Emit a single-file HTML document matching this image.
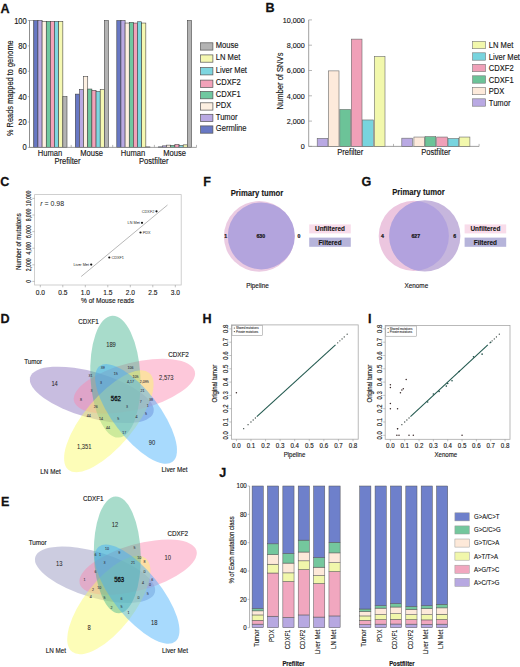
<!DOCTYPE html>
<html><head><meta charset="utf-8"><style>
html,body{margin:0;padding:0;background:#fff;}
body{width:520px;height:667px;overflow:hidden;}
svg{display:block;font-family:"Liberation Sans", sans-serif;}
</style></head><body>
<svg width="520" height="667" viewBox="0 0 520 667">
<rect width="520" height="667" fill="#fff"/>
<text x="0" y="0" font-size="12.6" font-weight="bold" fill="#111" stroke="#111" stroke-width="0.25" transform="translate(0.6 12.73) scale(1 1.05)">A</text>
<rect x="29.6" y="20.5" width="4.2" height="126.9" fill="#ffffff" stroke="#777" stroke-width="0.6"/>
<rect x="33.8" y="20.5" width="4.15" height="126.9" fill="#6878c4" stroke="#3a3a3a" stroke-width="0.55"/>
<rect x="37.95" y="20.5" width="4.15" height="126.9" fill="#b9a9e3" stroke="#3a3a3a" stroke-width="0.55"/>
<rect x="42.1" y="21.39" width="4.15" height="126.01" fill="#fdf0e2" stroke="#3a3a3a" stroke-width="0.55"/>
<rect x="46.25" y="21.39" width="4.15" height="126.01" fill="#70c8a0" stroke="#3a3a3a" stroke-width="0.55"/>
<rect x="50.4" y="21.39" width="4.15" height="126.01" fill="#f2a2b9" stroke="#3a3a3a" stroke-width="0.55"/>
<rect x="54.55" y="21.39" width="4.15" height="126.01" fill="#7ed6e0" stroke="#3a3a3a" stroke-width="0.55"/>
<rect x="58.7" y="21.39" width="4.15" height="126.01" fill="#f5f8b2" stroke="#3a3a3a" stroke-width="0.55"/>
<rect x="62.85" y="96.64" width="4.15" height="50.76" fill="#b3b3b3" stroke="#3a3a3a" stroke-width="0.55"/>
<rect x="75.3" y="94.1" width="4.15" height="53.3" fill="#6878c4" stroke="#3a3a3a" stroke-width="0.55"/>
<rect x="79.45" y="89.66" width="4.15" height="57.74" fill="#b9a9e3" stroke="#3a3a3a" stroke-width="0.55"/>
<rect x="83.6" y="76.34" width="4.15" height="71.06" fill="#fdf0e2" stroke="#3a3a3a" stroke-width="0.55"/>
<rect x="87.75" y="89.03" width="4.15" height="58.37" fill="#70c8a0" stroke="#3a3a3a" stroke-width="0.55"/>
<rect x="91.9" y="90.3" width="4.15" height="57.1" fill="#f2a2b9" stroke="#3a3a3a" stroke-width="0.55"/>
<rect x="96.05" y="91.56" width="4.15" height="55.84" fill="#7ed6e0" stroke="#3a3a3a" stroke-width="0.55"/>
<rect x="100.2" y="89.66" width="4.15" height="57.74" fill="#f5f8b2" stroke="#3a3a3a" stroke-width="0.55"/>
<rect x="104.35" y="20.5" width="4.15" height="126.9" fill="#b3b3b3" stroke="#3a3a3a" stroke-width="0.55"/>
<rect x="116.8" y="20.5" width="4.15" height="126.9" fill="#6878c4" stroke="#3a3a3a" stroke-width="0.55"/>
<rect x="120.95" y="20.5" width="4.15" height="126.9" fill="#b9a9e3" stroke="#3a3a3a" stroke-width="0.55"/>
<rect x="125.1" y="23.04" width="4.15" height="124.36" fill="#fdf0e2" stroke="#3a3a3a" stroke-width="0.55"/>
<rect x="129.25" y="22.4" width="4.15" height="125" fill="#70c8a0" stroke="#3a3a3a" stroke-width="0.55"/>
<rect x="133.4" y="23.04" width="4.15" height="124.36" fill="#f2a2b9" stroke="#3a3a3a" stroke-width="0.55"/>
<rect x="137.55" y="21.77" width="4.15" height="125.63" fill="#7ed6e0" stroke="#3a3a3a" stroke-width="0.55"/>
<rect x="141.7" y="23.04" width="4.15" height="124.36" fill="#f5f8b2" stroke="#3a3a3a" stroke-width="0.55"/>
<rect x="145.85" y="146.89" width="4.15" height="0.51" fill="#b3b3b3" stroke="#3a3a3a" stroke-width="0.55"/>
<rect x="158.3" y="146.89" width="4.15" height="0.51" fill="#6878c4" stroke="#3a3a3a" stroke-width="0.55"/>
<rect x="162.45" y="145.88" width="4.15" height="1.52" fill="#b9a9e3" stroke="#3a3a3a" stroke-width="0.55"/>
<rect x="166.6" y="145.12" width="4.15" height="2.28" fill="#fdf0e2" stroke="#3a3a3a" stroke-width="0.55"/>
<rect x="170.75" y="145.5" width="4.15" height="1.9" fill="#70c8a0" stroke="#3a3a3a" stroke-width="0.55"/>
<rect x="174.9" y="144.61" width="4.15" height="2.79" fill="#f2a2b9" stroke="#3a3a3a" stroke-width="0.55"/>
<rect x="179.05" y="145.5" width="4.15" height="1.9" fill="#7ed6e0" stroke="#3a3a3a" stroke-width="0.55"/>
<rect x="183.2" y="144.86" width="4.15" height="2.54" fill="#f5f8b2" stroke="#3a3a3a" stroke-width="0.55"/>
<rect x="187.35" y="20.5" width="4.15" height="126.9" fill="#b3b3b3" stroke="#3a3a3a" stroke-width="0.55"/>
<line x1="29.5" y1="20.5" x2="29.5" y2="147.4" stroke="#888" stroke-width="0.8"/>
<line x1="27.8" y1="147.4" x2="29.5" y2="147.4" stroke="#888" stroke-width="0.6"/>
<text x="0" y="2.74" font-size="7.6" text-anchor="end" fill="#161616" transform="translate(26.8 147.4) scale(1 1.1)" stroke="#161616" stroke-width="0.12">0</text>
<line x1="27.8" y1="122.02" x2="29.5" y2="122.02" stroke="#888" stroke-width="0.6"/>
<text x="0" y="2.74" font-size="7.6" text-anchor="end" fill="#161616" transform="translate(26.8 122.02) scale(1 1.1)" stroke="#161616" stroke-width="0.12">20</text>
<line x1="27.8" y1="96.64" x2="29.5" y2="96.64" stroke="#888" stroke-width="0.6"/>
<text x="0" y="2.74" font-size="7.6" text-anchor="end" fill="#161616" transform="translate(26.8 96.64) scale(1 1.1)" stroke="#161616" stroke-width="0.12">40</text>
<line x1="27.8" y1="71.26" x2="29.5" y2="71.26" stroke="#888" stroke-width="0.6"/>
<text x="0" y="2.74" font-size="7.6" text-anchor="end" fill="#161616" transform="translate(26.8 71.26) scale(1 1.1)" stroke="#161616" stroke-width="0.12">60</text>
<line x1="27.8" y1="45.88" x2="29.5" y2="45.88" stroke="#888" stroke-width="0.6"/>
<text x="0" y="2.74" font-size="7.6" text-anchor="end" fill="#161616" transform="translate(26.8 45.88) scale(1 1.1)" stroke="#161616" stroke-width="0.12">80</text>
<line x1="27.8" y1="20.5" x2="29.5" y2="20.5" stroke="#888" stroke-width="0.6"/>
<text x="0" y="2.74" font-size="7.6" text-anchor="end" fill="#161616" transform="translate(26.8 20.5) scale(1 1.1)" stroke="#161616" stroke-width="0.12">100</text>
<line x1="29.5" y1="147.4" x2="196.5" y2="147.4" stroke="#888" stroke-width="0.8"/>
<line x1="71.2" y1="144.9" x2="71.2" y2="147.4" stroke="#888" stroke-width="0.6"/>
<line x1="112.7" y1="144.9" x2="112.7" y2="147.4" stroke="#888" stroke-width="0.6"/>
<line x1="154.4" y1="144.9" x2="154.4" y2="147.4" stroke="#888" stroke-width="0.6"/>
<line x1="196.5" y1="144.9" x2="196.5" y2="147.4" stroke="#888" stroke-width="0.6"/>
<text x="0" y="2.74" font-size="7.6" text-anchor="middle" fill="#161616" transform="translate(50 153.2) scale(1 1.1)" stroke="#161616" stroke-width="0.12">Human</text>
<text x="0" y="2.74" font-size="7.6" text-anchor="middle" fill="#161616" transform="translate(91.5 153.2) scale(1 1.1)" stroke="#161616" stroke-width="0.12">Mouse</text>
<text x="0" y="2.74" font-size="7.6" text-anchor="middle" fill="#161616" transform="translate(133 153.2) scale(1 1.1)" stroke="#161616" stroke-width="0.12">Human</text>
<text x="0" y="2.74" font-size="7.6" text-anchor="middle" fill="#161616" transform="translate(174.6 153.2) scale(1 1.1)" stroke="#161616" stroke-width="0.12">Mouse</text>
<text x="0" y="2.74" font-size="7.6" text-anchor="middle" fill="#161616" transform="translate(67.5 160.6) scale(1 1.1)" stroke="#161616" stroke-width="0.12">Prefilter</text>
<text x="0" y="2.74" font-size="7.6" text-anchor="middle" fill="#161616" transform="translate(153.8 160.6) scale(1 1.1)" stroke="#161616" stroke-width="0.12">Postfilter</text>
<text x="0" y="2.66" font-size="7.4" text-anchor="middle" fill="#161616" transform="translate(10.2 88.2) rotate(-90) scale(1 1.1)" stroke="#161616" stroke-width="0.12">% Reads mapped to genome</text>
<rect x="200.6" y="42.8" width="12.3" height="7.3" fill="#b3b3b3" stroke="#555" stroke-width="0.7"/>
<text x="0" y="2.74" font-size="7.6" text-anchor="start" fill="#161616" transform="translate(215.8 45.1) scale(1 1.1)" stroke="#161616" stroke-width="0.12">Mouse</text>
<rect x="200.6" y="54.9" width="12.3" height="7.3" fill="#f5f8b2" stroke="#555" stroke-width="0.7"/>
<text x="0" y="2.74" font-size="7.6" text-anchor="start" fill="#161616" transform="translate(215.8 57.2) scale(1 1.1)" stroke="#161616" stroke-width="0.12">LN Met</text>
<rect x="200.6" y="67.6" width="12.3" height="7.3" fill="#7ed6e0" stroke="#555" stroke-width="0.7"/>
<text x="0" y="2.74" font-size="7.6" text-anchor="start" fill="#161616" transform="translate(215.8 69.9) scale(1 1.1)" stroke="#161616" stroke-width="0.12">Liver Met</text>
<rect x="200.6" y="80.1" width="12.3" height="7.3" fill="#f2a2b9" stroke="#555" stroke-width="0.7"/>
<text x="0" y="2.74" font-size="7.6" text-anchor="start" fill="#161616" transform="translate(215.8 82.4) scale(1 1.1)" stroke="#161616" stroke-width="0.12">CDXF2</text>
<rect x="200.6" y="91.5" width="12.3" height="7.3" fill="#70c8a0" stroke="#555" stroke-width="0.7"/>
<text x="0" y="2.74" font-size="7.6" text-anchor="start" fill="#161616" transform="translate(215.8 93.8) scale(1 1.1)" stroke="#161616" stroke-width="0.12">CDXF1</text>
<rect x="200.6" y="102.8" width="12.3" height="7.3" fill="#fdf0e2" stroke="#555" stroke-width="0.7"/>
<text x="0" y="2.74" font-size="7.6" text-anchor="start" fill="#161616" transform="translate(215.8 105.1) scale(1 1.1)" stroke="#161616" stroke-width="0.12">PDX</text>
<rect x="200.6" y="114.3" width="12.3" height="7.3" fill="#b9a9e3" stroke="#555" stroke-width="0.7"/>
<text x="0" y="2.74" font-size="7.6" text-anchor="start" fill="#161616" transform="translate(215.8 116.6) scale(1 1.1)" stroke="#161616" stroke-width="0.12">Tumor</text>
<rect x="200.6" y="125.9" width="12.3" height="7.3" fill="#6878c4" stroke="#555" stroke-width="0.7"/>
<text x="0" y="2.74" font-size="7.6" text-anchor="start" fill="#161616" transform="translate(215.8 128.2) scale(1 1.1)" stroke="#161616" stroke-width="0.12">Germline</text>
<text x="0" y="0" font-size="12.6" font-weight="bold" fill="#111" stroke="#111" stroke-width="0.25" transform="translate(265.4 12.33) scale(1 1.05)">B</text>
<line x1="308.7" y1="19.9" x2="308.7" y2="146.4" stroke="#888" stroke-width="0.8"/>
<line x1="308.7" y1="146.4" x2="312" y2="146.4" stroke="#888" stroke-width="0.6"/>
<text x="0" y="2.59" font-size="7.2" text-anchor="end" fill="#161616" transform="translate(304.8 146.4) scale(1 1.1)" stroke="#161616" stroke-width="0.12">0</text>
<line x1="308.7" y1="121.1" x2="312" y2="121.1" stroke="#888" stroke-width="0.6"/>
<text x="0" y="2.59" font-size="7.2" text-anchor="end" fill="#161616" transform="translate(304.8 121.1) scale(1 1.1)" stroke="#161616" stroke-width="0.12">2,000</text>
<line x1="308.7" y1="95.8" x2="312" y2="95.8" stroke="#888" stroke-width="0.6"/>
<text x="0" y="2.59" font-size="7.2" text-anchor="end" fill="#161616" transform="translate(304.8 95.8) scale(1 1.1)" stroke="#161616" stroke-width="0.12">4,000</text>
<line x1="308.7" y1="70.5" x2="312" y2="70.5" stroke="#888" stroke-width="0.6"/>
<text x="0" y="2.59" font-size="7.2" text-anchor="end" fill="#161616" transform="translate(304.8 70.5) scale(1 1.1)" stroke="#161616" stroke-width="0.12">6,000</text>
<line x1="308.7" y1="45.2" x2="312" y2="45.2" stroke="#888" stroke-width="0.6"/>
<text x="0" y="2.59" font-size="7.2" text-anchor="end" fill="#161616" transform="translate(304.8 45.2) scale(1 1.1)" stroke="#161616" stroke-width="0.12">8,000</text>
<line x1="308.7" y1="19.9" x2="312" y2="19.9" stroke="#888" stroke-width="0.6"/>
<text x="0" y="2.59" font-size="7.2" text-anchor="end" fill="#161616" transform="translate(304.8 19.9) scale(1 1.1)" stroke="#161616" stroke-width="0.12">10,000</text>
<line x1="308.7" y1="146.4" x2="479.1" y2="146.4" stroke="#888" stroke-width="0.8"/>
<line x1="393.5" y1="143.9" x2="393.5" y2="146.4" stroke="#888" stroke-width="0.6"/>
<line x1="479.1" y1="143.9" x2="479.1" y2="146.4" stroke="#888" stroke-width="0.6"/>
<rect x="317.2" y="138.3" width="10.7" height="8.1" fill="#b9a9e3" stroke="#6a6a6a" stroke-width="0.6"/>
<rect x="328.3" y="70.88" width="10.7" height="75.52" fill="#fdeadb" stroke="#6a6a6a" stroke-width="0.6"/>
<rect x="339.8" y="109.46" width="10.7" height="36.94" fill="#6cc398" stroke="#6a6a6a" stroke-width="0.6"/>
<rect x="351.3" y="39.13" width="10.7" height="107.27" fill="#f0a0b8" stroke="#6a6a6a" stroke-width="0.6"/>
<rect x="362.6" y="119.96" width="10.7" height="26.44" fill="#78d4de" stroke="#6a6a6a" stroke-width="0.6"/>
<rect x="374.3" y="56.46" width="10.7" height="89.94" fill="#f2f8ac" stroke="#6a6a6a" stroke-width="0.6"/>
<rect x="401.8" y="138.18" width="10.7" height="8.22" fill="#b9a9e3" stroke="#6a6a6a" stroke-width="0.6"/>
<rect x="413.9" y="137.04" width="10.7" height="9.36" fill="#fdeadb" stroke="#6a6a6a" stroke-width="0.6"/>
<rect x="425" y="136.66" width="10.7" height="9.74" fill="#6cc398" stroke="#6a6a6a" stroke-width="0.6"/>
<rect x="436.7" y="137.04" width="10.7" height="9.36" fill="#f0a0b8" stroke="#6a6a6a" stroke-width="0.6"/>
<rect x="448" y="138.56" width="10.7" height="7.84" fill="#78d4de" stroke="#6a6a6a" stroke-width="0.6"/>
<rect x="459.2" y="137.04" width="10.7" height="9.36" fill="#f2f8ac" stroke="#6a6a6a" stroke-width="0.6"/>
<text x="0" y="2.74" font-size="7.6" text-anchor="middle" fill="#161616" transform="translate(350.3 152) scale(1 1.1)" stroke="#161616" stroke-width="0.12">Prefilter</text>
<text x="0" y="2.74" font-size="7.6" text-anchor="middle" fill="#161616" transform="translate(435.9 152) scale(1 1.1)" stroke="#161616" stroke-width="0.12">Postfilter</text>
<text x="0" y="2.74" font-size="7.6" text-anchor="middle" fill="#161616" transform="translate(280.2 81) rotate(-90) scale(1 1.1)" stroke="#161616" stroke-width="0.12">Number of SNVs</text>
<rect x="472.6" y="41.3" width="13" height="7.4" fill="#f2f8ac" stroke="#777" stroke-width="0.6"/>
<text x="0" y="2.74" font-size="7.6" text-anchor="start" fill="#161616" transform="translate(488.8 45) scale(1 1.1)" stroke="#161616" stroke-width="0.12">LN Met</text>
<rect x="472.6" y="52.8" width="13" height="7.4" fill="#78d4de" stroke="#777" stroke-width="0.6"/>
<text x="0" y="2.74" font-size="7.6" text-anchor="start" fill="#161616" transform="translate(488.8 56.5) scale(1 1.1)" stroke="#161616" stroke-width="0.12">Liver Met</text>
<rect x="472.6" y="64.3" width="13" height="7.4" fill="#f0a0b8" stroke="#777" stroke-width="0.6"/>
<text x="0" y="2.74" font-size="7.6" text-anchor="start" fill="#161616" transform="translate(488.8 68) scale(1 1.1)" stroke="#161616" stroke-width="0.12">CDXF2</text>
<rect x="472.6" y="75.8" width="13" height="7.4" fill="#6cc398" stroke="#777" stroke-width="0.6"/>
<text x="0" y="2.74" font-size="7.6" text-anchor="start" fill="#161616" transform="translate(488.8 79.5) scale(1 1.1)" stroke="#161616" stroke-width="0.12">CDXF1</text>
<rect x="472.6" y="87.3" width="13" height="7.4" fill="#fdeadb" stroke="#777" stroke-width="0.6"/>
<text x="0" y="2.74" font-size="7.6" text-anchor="start" fill="#161616" transform="translate(488.8 91) scale(1 1.1)" stroke="#161616" stroke-width="0.12">PDX</text>
<rect x="472.6" y="98.8" width="13" height="7.4" fill="#b9a9e3" stroke="#777" stroke-width="0.6"/>
<text x="0" y="2.74" font-size="7.6" text-anchor="start" fill="#161616" transform="translate(488.8 102.5) scale(1 1.1)" stroke="#161616" stroke-width="0.12">Tumor</text>
<text x="0" y="0" font-size="12.6" font-weight="bold" fill="#111" stroke="#111" stroke-width="0.25" transform="translate(0.3 186.23) scale(1 1.05)">C</text>
<rect x="34.6" y="194.6" width="146.6" height="90.4" fill="none" stroke="#c4c4c4" stroke-width="0.8"/>
<line x1="32.3" y1="281.4" x2="34.6" y2="281.4" stroke="#999" stroke-width="0.6"/>
<text x="0" y="1.84" font-size="5.1" text-anchor="middle" fill="#161616" transform="translate(28.4 281.4) rotate(-90) scale(1 1.3)" stroke="#161616" stroke-width="0.12">0</text>
<line x1="32.3" y1="264.8" x2="34.6" y2="264.8" stroke="#999" stroke-width="0.6"/>
<text x="0" y="1.84" font-size="5.1" text-anchor="middle" fill="#161616" transform="translate(28.4 264.8) rotate(-90) scale(1 1.3)" stroke="#161616" stroke-width="0.12">2,000</text>
<line x1="32.3" y1="248.2" x2="34.6" y2="248.2" stroke="#999" stroke-width="0.6"/>
<text x="0" y="1.84" font-size="5.1" text-anchor="middle" fill="#161616" transform="translate(28.4 248.2) rotate(-90) scale(1 1.3)" stroke="#161616" stroke-width="0.12">4,000</text>
<line x1="32.3" y1="231.6" x2="34.6" y2="231.6" stroke="#999" stroke-width="0.6"/>
<text x="0" y="1.84" font-size="5.1" text-anchor="middle" fill="#161616" transform="translate(28.4 231.6) rotate(-90) scale(1 1.3)" stroke="#161616" stroke-width="0.12">6,000</text>
<line x1="32.3" y1="215" x2="34.6" y2="215" stroke="#999" stroke-width="0.6"/>
<text x="0" y="1.84" font-size="5.1" text-anchor="middle" fill="#161616" transform="translate(28.4 215) rotate(-90) scale(1 1.3)" stroke="#161616" stroke-width="0.12">8,000</text>
<line x1="32.3" y1="198.4" x2="34.6" y2="198.4" stroke="#999" stroke-width="0.6"/>
<text x="0" y="1.84" font-size="5.1" text-anchor="middle" fill="#161616" transform="translate(28.4 198.4) rotate(-90) scale(1 1.3)" stroke="#161616" stroke-width="0.12">10,000</text>
<line x1="40.3" y1="285" x2="40.3" y2="287.3" stroke="#999" stroke-width="0.6"/>
<text x="0" y="2.38" font-size="6.6" text-anchor="middle" fill="#161616" transform="translate(40.3 292.2) scale(1 1.1)" stroke="#161616" stroke-width="0.12">0.0</text>
<line x1="62.8" y1="285" x2="62.8" y2="287.3" stroke="#999" stroke-width="0.6"/>
<text x="0" y="2.38" font-size="6.6" text-anchor="middle" fill="#161616" transform="translate(62.8 292.2) scale(1 1.1)" stroke="#161616" stroke-width="0.12">0.5</text>
<line x1="85.3" y1="285" x2="85.3" y2="287.3" stroke="#999" stroke-width="0.6"/>
<text x="0" y="2.38" font-size="6.6" text-anchor="middle" fill="#161616" transform="translate(85.3 292.2) scale(1 1.1)" stroke="#161616" stroke-width="0.12">1.0</text>
<line x1="107.8" y1="285" x2="107.8" y2="287.3" stroke="#999" stroke-width="0.6"/>
<text x="0" y="2.38" font-size="6.6" text-anchor="middle" fill="#161616" transform="translate(107.8 292.2) scale(1 1.1)" stroke="#161616" stroke-width="0.12">1.5</text>
<line x1="130.3" y1="285" x2="130.3" y2="287.3" stroke="#999" stroke-width="0.6"/>
<text x="0" y="2.38" font-size="6.6" text-anchor="middle" fill="#161616" transform="translate(130.3 292.2) scale(1 1.1)" stroke="#161616" stroke-width="0.12">2.0</text>
<line x1="152.8" y1="285" x2="152.8" y2="287.3" stroke="#999" stroke-width="0.6"/>
<text x="0" y="2.38" font-size="6.6" text-anchor="middle" fill="#161616" transform="translate(152.8 292.2) scale(1 1.1)" stroke="#161616" stroke-width="0.12">2.5</text>
<line x1="175.3" y1="285" x2="175.3" y2="287.3" stroke="#999" stroke-width="0.6"/>
<text x="0" y="2.38" font-size="6.6" text-anchor="middle" fill="#161616" transform="translate(175.3 292.2) scale(1 1.1)" stroke="#161616" stroke-width="0.12">3.0</text>
<text x="40.2" y="205.5" font-size="7" fill="#222"><tspan font-style="italic">r</tspan> = 0.98</text>
<line x1="81.2" y1="276.5" x2="167.5" y2="205" stroke="#999" stroke-width="0.7"/>
<circle cx="91.2" cy="264.6" r="1.1" fill="#111"/>
<text x="0" y="1.37" font-size="3.8" text-anchor="end" fill="#333" transform="translate(89 264.6) scale(1 1.1)" stroke="#333" stroke-width="0.02">Liver Met</text>
<circle cx="109.3" cy="257.5" r="1.1" fill="#111"/>
<text x="0" y="1.37" font-size="3.8" text-anchor="start" fill="#333" transform="translate(111.5 257.5) scale(1 1.1)" stroke="#333" stroke-width="0.02">CDXF1</text>
<circle cx="140.5" cy="232.5" r="1.1" fill="#111"/>
<text x="0" y="1.37" font-size="3.8" text-anchor="start" fill="#333" transform="translate(142.7 232.5) scale(1 1.1)" stroke="#333" stroke-width="0.02">PDX</text>
<circle cx="142" cy="222.8" r="1.1" fill="#111"/>
<text x="0" y="1.37" font-size="3.8" text-anchor="end" fill="#333" transform="translate(139.8 222.8) scale(1 1.1)" stroke="#333" stroke-width="0.02">LN Met</text>
<circle cx="156.5" cy="211.3" r="1.1" fill="#111"/>
<text x="0" y="1.37" font-size="3.8" text-anchor="end" fill="#333" transform="translate(154.3 211.3) scale(1 1.1)" stroke="#333" stroke-width="0.02">CDXF2</text>
<text x="0" y="2.2" font-size="6.1" text-anchor="middle" fill="#161616" transform="translate(18.9 241.6) rotate(-90) scale(1 1.1)" stroke="#161616" stroke-width="0.12">Number of mutations</text>
<text x="0" y="2.38" font-size="6.6" text-anchor="middle" fill="#161616" transform="translate(107.5 300.6) scale(1 1.1)" stroke="#161616" stroke-width="0.12">% of Mouse reads</text>
<text x="0" y="0" font-size="12.6" font-weight="bold" fill="#111" stroke="#111" stroke-width="0.25" transform="translate(203.2 186.23) scale(1 1.05)">F</text>
<text x="0" y="2.77" font-size="7.7" text-anchor="middle" fill="#161616" transform="translate(256.9 192.8) scale(1 1.1)" font-weight="bold" stroke="#161616" stroke-width="0.12">Primary tumor</text>
<circle cx="259.2" cy="236.4" r="35.3" fill="#ebcbe2"/>
<circle cx="261.3" cy="235.9" r="33.5" fill="#b3a4dd"/>
<text x="0" y="1.87" font-size="5.2" text-anchor="middle" fill="#161616" transform="translate(225.7 236.2) scale(1 1.1)" font-weight="bold" stroke="#161616" stroke-width="0.2">1</text>
<text x="0" y="1.87" font-size="5.2" text-anchor="middle" fill="#161616" transform="translate(260.8 236.2) scale(1 1.1)" font-weight="bold" stroke="#161616" stroke-width="0.2">630</text>
<text x="0" y="1.87" font-size="5.2" text-anchor="middle" fill="#161616" transform="translate(298.9 236.2) scale(1 1.1)" font-weight="bold" stroke="#161616" stroke-width="0.2">0</text>
<rect x="309.2" y="224.4" width="41.6" height="9" fill="#f8dcea" stroke="none" stroke-width="0.6"/>
<rect x="309.2" y="237.6" width="41.6" height="9.2" fill="#b6b4da" stroke="none" stroke-width="0.6"/>
<text x="0" y="2.3" font-size="6.4" text-anchor="middle" fill="#161616" transform="translate(330 228.9) scale(1 1.1)" font-weight="bold" stroke="#161616" stroke-width="0.12">Unfiltered</text>
<text x="0" y="2.3" font-size="6.4" text-anchor="middle" fill="#161616" transform="translate(330 242.2) scale(1 1.1)" font-weight="bold" stroke="#161616" stroke-width="0.12">Filtered</text>
<text x="0" y="2.3" font-size="6.4" text-anchor="middle" fill="#161616" transform="translate(257.5 285.6) scale(1 1.1)" stroke="#161616" stroke-width="0.12">Pipeline</text>
<text x="0" y="0" font-size="12.6" font-weight="bold" fill="#111" stroke="#111" stroke-width="0.25" transform="translate(361.5 186.23) scale(1 1.05)">G</text>
<text x="0" y="2.77" font-size="7.7" text-anchor="middle" fill="#161616" transform="translate(418.5 192.3) scale(1 1.1)" font-weight="bold" stroke="#161616" stroke-width="0.12">Primary tumor</text>
<defs><clipPath id="gpink"><circle cx="413.8" cy="235.9" r="35.1"/></clipPath></defs>
<circle cx="413.8" cy="235.9" r="35.1" fill="#ecc6df"/>
<circle cx="424.8" cy="235.9" r="35.6" fill="#c6b6dd"/>
<circle cx="424.8" cy="235.9" r="35.6" fill="#b2a2de" clip-path="url(#gpink)"/>
<text x="0" y="1.87" font-size="5.2" text-anchor="middle" fill="#161616" transform="translate(382.5 236) scale(1 1.1)" font-weight="bold" stroke="#161616" stroke-width="0.2">4</text>
<text x="0" y="1.87" font-size="5.2" text-anchor="middle" fill="#161616" transform="translate(415.8 236) scale(1 1.1)" font-weight="bold" stroke="#161616" stroke-width="0.2">627</text>
<text x="0" y="1.87" font-size="5.2" text-anchor="middle" fill="#161616" transform="translate(454.6 236) scale(1 1.1)" font-weight="bold" stroke="#161616" stroke-width="0.2">6</text>
<rect x="464.6" y="224.4" width="41.6" height="9" fill="#f8dcea" stroke="none" stroke-width="0.6"/>
<rect x="464.6" y="237.6" width="41.6" height="9.2" fill="#b6b4da" stroke="none" stroke-width="0.6"/>
<text x="0" y="2.3" font-size="6.4" text-anchor="middle" fill="#161616" transform="translate(485.4 228.9) scale(1 1.1)" font-weight="bold" stroke="#161616" stroke-width="0.12">Unfiltered</text>
<text x="0" y="2.3" font-size="6.4" text-anchor="middle" fill="#161616" transform="translate(485.4 242.2) scale(1 1.1)" font-weight="bold" stroke="#161616" stroke-width="0.12">Filtered</text>
<text x="0" y="2.3" font-size="6.4" text-anchor="middle" fill="#161616" transform="translate(416.3 285.3) scale(1 1.1)" stroke="#161616" stroke-width="0.12">Xenome</text>
<text x="0" y="0" font-size="12.6" font-weight="bold" fill="#111" stroke="#111" stroke-width="0.25" transform="translate(0.4 322.73) scale(1 1.05)">D</text>
<ellipse cx="91.8" cy="394.89" rx="64.17" ry="22.84" transform="rotate(196.02 91.8 394.89)" fill="#856cba" fill-opacity="0.45"/>
<ellipse cx="134.39" cy="386.19" rx="62.23" ry="23.61" transform="rotate(-13.85 134.39 386.19)" fill="#fb85ad" fill-opacity="0.45"/>
<ellipse cx="115.4" cy="376.6" rx="61" ry="25" transform="rotate(-93 115.4 376.6)" fill="#3eb18b" fill-opacity="0.45"/>
<ellipse cx="108.82" cy="421.29" rx="63.09" ry="24.92" transform="rotate(129.9 108.82 421.29)" fill="#fbfb61" fill-opacity="0.45"/>
<ellipse cx="136.06" cy="413.92" rx="60.12" ry="23.26" transform="rotate(52.59 136.06 413.92)" fill="#3eadfb" fill-opacity="0.45"/>
<text x="0" y="2.27" font-size="6.3" text-anchor="middle" fill="#161616" transform="translate(88.5 321.2) scale(1 1.1)" stroke="#161616" stroke-width="0.12">CDXF1</text>
<text x="0" y="2.27" font-size="6.3" text-anchor="middle" fill="#161616" transform="translate(33.1 361.9) scale(1 1.1)" stroke="#161616" stroke-width="0.12">Tumor</text>
<text x="0" y="2.27" font-size="6.3" text-anchor="middle" fill="#161616" transform="translate(178.5 354.7) scale(1 1.1)" stroke="#161616" stroke-width="0.12">CDXF2</text>
<text x="0" y="2.27" font-size="6.3" text-anchor="middle" fill="#161616" transform="translate(50.5 471) scale(1 1.1)" stroke="#161616" stroke-width="0.12">LN Met</text>
<text x="0" y="2.27" font-size="6.3" text-anchor="middle" fill="#161616" transform="translate(174.5 469.9) scale(1 1.1)" stroke="#161616" stroke-width="0.12">Liver Met</text>
<text x="0" y="2.09" font-size="5.8" text-anchor="middle" fill="#2a2a2a" transform="translate(54.6 383.5) scale(1 1.1)" stroke="#2a2a2a" stroke-width="0.05">14</text>
<text x="0" y="2.09" font-size="5.8" text-anchor="middle" fill="#2a2a2a" transform="translate(111 344.3) scale(1 1.1)" stroke="#2a2a2a" stroke-width="0.05">189</text>
<text x="0" y="2.09" font-size="5.8" text-anchor="middle" fill="#2a2a2a" transform="translate(166.3 377.3) scale(1 1.1)" stroke="#2a2a2a" stroke-width="0.05">2,573</text>
<text x="0" y="2.16" font-size="6" text-anchor="middle" fill="#101418" transform="translate(115.8 398.6) scale(1 1.1)" stroke="#101418" stroke-width="0.3">562</text>
<text x="0" y="2.09" font-size="5.8" text-anchor="middle" fill="#2a2a2a" transform="translate(84.2 446.2) scale(1 1.1)" stroke="#2a2a2a" stroke-width="0.05">1,351</text>
<text x="0" y="2.09" font-size="5.8" text-anchor="middle" fill="#2a2a2a" transform="translate(151.9 442.5) scale(1 1.1)" stroke="#2a2a2a" stroke-width="0.05">90</text>
<text x="0" y="1.3" font-size="3.6" text-anchor="middle" fill="#303040" transform="translate(102.7 368) scale(1 1.1)" stroke="#303040" stroke-width="0.05">39</text>
<text x="0" y="1.3" font-size="3.6" text-anchor="middle" fill="#303040" transform="translate(115.7 373.2) scale(1 1.1)" stroke="#303040" stroke-width="0.05">15</text>
<text x="0" y="1.3" font-size="3.6" text-anchor="middle" fill="#303040" transform="translate(90.6 375.4) scale(1 1.1)" stroke="#303040" stroke-width="0.05">31</text>
<text x="0" y="1.3" font-size="3.6" text-anchor="middle" fill="#303040" transform="translate(101 382.7) scale(1 1.1)" stroke="#303040" stroke-width="0.05">3</text>
<text x="0" y="1.3" font-size="3.6" text-anchor="middle" fill="#303040" transform="translate(130.4 367.1) scale(1 1.1)" stroke="#303040" stroke-width="0.05">106</text>
<text x="0" y="1.3" font-size="3.6" text-anchor="middle" fill="#303040" transform="translate(135.6 376.6) scale(1 1.1)" stroke="#303040" stroke-width="0.05">105</text>
<text x="0" y="1.3" font-size="3.6" text-anchor="middle" fill="#303040" transform="translate(144.2 381.8) scale(1 1.1)" stroke="#303040" stroke-width="0.05">2,095</text>
<text x="0" y="1.3" font-size="3.6" text-anchor="middle" fill="#303040" transform="translate(130.4 381.8) scale(1 1.1)" stroke="#303040" stroke-width="0.05">4,17</text>
<text x="0" y="1.3" font-size="3.6" text-anchor="middle" fill="#303040" transform="translate(142.5 390.5) scale(1 1.1)" stroke="#303040" stroke-width="0.05">21</text>
<text x="0" y="1.3" font-size="3.6" text-anchor="middle" fill="#303040" transform="translate(140.7 401.7) scale(1 1.1)" stroke="#303040" stroke-width="0.05">7</text>
<text x="0" y="1.3" font-size="3.6" text-anchor="middle" fill="#303040" transform="translate(151.1 400) scale(1 1.1)" stroke="#303040" stroke-width="0.05">38</text>
<text x="0" y="1.3" font-size="3.6" text-anchor="middle" fill="#303040" transform="translate(147.7 405.2) scale(1 1.1)" stroke="#303040" stroke-width="0.05">1</text>
<text x="0" y="1.3" font-size="3.6" text-anchor="middle" fill="#303040" transform="translate(146 413.8) scale(1 1.1)" stroke="#303040" stroke-width="0.05">5</text>
<text x="0" y="1.3" font-size="3.6" text-anchor="middle" fill="#303040" transform="translate(136.4 416.4) scale(1 1.1)" stroke="#303040" stroke-width="0.05">4</text>
<text x="0" y="1.3" font-size="3.6" text-anchor="middle" fill="#303040" transform="translate(126.9 406.9) scale(1 1.1)" stroke="#303040" stroke-width="0.05">3</text>
<text x="0" y="1.3" font-size="3.6" text-anchor="middle" fill="#303040" transform="translate(118.3 419) scale(1 1.1)" stroke="#303040" stroke-width="0.05">5</text>
<text x="0" y="1.3" font-size="3.6" text-anchor="middle" fill="#303040" transform="translate(107.9 427.7) scale(1 1.1)" stroke="#303040" stroke-width="0.05">44</text>
<text x="0" y="1.3" font-size="3.6" text-anchor="middle" fill="#303040" transform="translate(124.3 432.9) scale(1 1.1)" stroke="#303040" stroke-width="0.05">17</text>
<text x="0" y="1.3" font-size="3.6" text-anchor="middle" fill="#303040" transform="translate(101 419) scale(1 1.1)" stroke="#303040" stroke-width="0.05">14</text>
<text x="0" y="1.3" font-size="3.6" text-anchor="middle" fill="#303040" transform="translate(88.8 415.6) scale(1 1.1)" stroke="#303040" stroke-width="0.05">44</text>
<text x="0" y="1.3" font-size="3.6" text-anchor="middle" fill="#303040" transform="translate(95.8 406.9) scale(1 1.1)" stroke="#303040" stroke-width="0.05">26</text>
<text x="0" y="1.3" font-size="3.6" text-anchor="middle" fill="#303040" transform="translate(81.1 400) scale(1 1.1)" stroke="#303040" stroke-width="0.05">8</text>
<text x="0" y="1.3" font-size="3.6" text-anchor="middle" fill="#303040" transform="translate(91.4 391) scale(1 1.1)" stroke="#303040" stroke-width="0.05">3</text>
<text x="0" y="0" font-size="12.6" font-weight="bold" fill="#111" stroke="#111" stroke-width="0.25" transform="translate(0.9 506.23) scale(1 1.05)">E</text>
<ellipse cx="95.07" cy="574.75" rx="62.41" ry="22.79" transform="rotate(196.63 95.07 574.75)" fill="#8e8eba" fill-opacity="0.45"/>
<ellipse cx="138.11" cy="567.17" rx="60.67" ry="22.93" transform="rotate(-15.87 138.11 567.17)" fill="#fb85ad" fill-opacity="0.45"/>
<ellipse cx="108.83" cy="605.05" rx="59.5" ry="24.89" transform="rotate(128.12 108.83 605.05)" fill="#fbfb61" fill-opacity="0.45"/>
<ellipse cx="117.3" cy="554.8" rx="58.4" ry="23.4" transform="rotate(-91.7 117.3 554.8)" fill="#3eb18b" fill-opacity="0.45"/>
<ellipse cx="137.05" cy="594.11" rx="60.85" ry="23.49" transform="rotate(51 137.05 594.11)" fill="#3eadfb" fill-opacity="0.45"/>
<text x="0" y="2.27" font-size="6.3" text-anchor="middle" fill="#161616" transform="translate(93.2 498.8) scale(1 1.1)" stroke="#161616" stroke-width="0.12">CDXF1</text>
<text x="0" y="2.27" font-size="6.3" text-anchor="middle" fill="#161616" transform="translate(37.7 542.4) scale(1 1.1)" stroke="#161616" stroke-width="0.12">Tumor</text>
<text x="0" y="2.27" font-size="6.3" text-anchor="middle" fill="#161616" transform="translate(177.8 533.7) scale(1 1.1)" stroke="#161616" stroke-width="0.12">CDXF2</text>
<text x="0" y="2.27" font-size="6.3" text-anchor="middle" fill="#161616" transform="translate(55.8 650.9) scale(1 1.1)" stroke="#161616" stroke-width="0.12">LN Met</text>
<text x="0" y="2.27" font-size="6.3" text-anchor="middle" fill="#161616" transform="translate(175 650.9) scale(1 1.1)" stroke="#161616" stroke-width="0.12">Liver Met</text>
<text x="0" y="2.09" font-size="5.8" text-anchor="middle" fill="#2a2a2a" transform="translate(59.2 563.5) scale(1 1.1)" stroke="#2a2a2a" stroke-width="0.05">13</text>
<text x="0" y="2.09" font-size="5.8" text-anchor="middle" fill="#2a2a2a" transform="translate(114.9 524.5) scale(1 1.1)" stroke="#2a2a2a" stroke-width="0.05">12</text>
<text x="0" y="2.09" font-size="5.8" text-anchor="middle" fill="#2a2a2a" transform="translate(167.7 557.3) scale(1 1.1)" stroke="#2a2a2a" stroke-width="0.05">10</text>
<text x="0" y="2.16" font-size="6" text-anchor="middle" fill="#101418" transform="translate(119.2 579.6) scale(1 1.1)" stroke="#101418" stroke-width="0.3">563</text>
<text x="0" y="2.09" font-size="5.8" text-anchor="middle" fill="#2a2a2a" transform="translate(89.2 627.7) scale(1 1.1)" stroke="#2a2a2a" stroke-width="0.05">8</text>
<text x="0" y="2.09" font-size="5.8" text-anchor="middle" fill="#2a2a2a" transform="translate(154.2 622.5) scale(1 1.1)" stroke="#2a2a2a" stroke-width="0.05">18</text>
<text x="0" y="1.3" font-size="3.6" text-anchor="middle" fill="#303040" transform="translate(106.9 548.5) scale(1 1.1)" stroke="#303040" stroke-width="0.05">10</text>
<text x="0" y="1.3" font-size="3.6" text-anchor="middle" fill="#303040" transform="translate(95.4 554.7) scale(1 1.1)" stroke="#303040" stroke-width="0.05">6</text>
<text x="0" y="1.3" font-size="3.6" text-anchor="middle" fill="#303040" transform="translate(100 554.2) scale(1 1.1)" stroke="#303040" stroke-width="0.05">1</text>
<text x="0" y="1.3" font-size="3.6" text-anchor="middle" fill="#303040" transform="translate(119.2 552.7) scale(1 1.1)" stroke="#303040" stroke-width="0.05">9</text>
<text x="0" y="1.3" font-size="3.6" text-anchor="middle" fill="#303040" transform="translate(134.6 548) scale(1 1.1)" stroke="#303040" stroke-width="0.05">5</text>
<text x="0" y="1.3" font-size="3.6" text-anchor="middle" fill="#303040" transform="translate(139.2 558) scale(1 1.1)" stroke="#303040" stroke-width="0.05">10</text>
<text x="0" y="1.3" font-size="3.6" text-anchor="middle" fill="#303040" transform="translate(133 562.7) scale(1 1.1)" stroke="#303040" stroke-width="0.05">21</text>
<text x="0" y="1.3" font-size="3.6" text-anchor="middle" fill="#303040" transform="translate(104.6 562.7) scale(1 1.1)" stroke="#303040" stroke-width="0.05">3</text>
<text x="0" y="1.3" font-size="3.6" text-anchor="middle" fill="#303040" transform="translate(95.4 571.2) scale(1 1.1)" stroke="#303040" stroke-width="0.05">6</text>
<text x="0" y="1.3" font-size="3.6" text-anchor="middle" fill="#303040" transform="translate(144.6 561.2) scale(1 1.1)" stroke="#303040" stroke-width="0.05">8</text>
<text x="0" y="1.3" font-size="3.6" text-anchor="middle" fill="#303040" transform="translate(144.6 571.2) scale(1 1.1)" stroke="#303040" stroke-width="0.05">0</text>
<text x="0" y="1.3" font-size="3.6" text-anchor="middle" fill="#303040" transform="translate(84.6 579.6) scale(1 1.1)" stroke="#303040" stroke-width="0.05">1</text>
<text x="0" y="1.3" font-size="3.6" text-anchor="middle" fill="#303040" transform="translate(152.3 579.6) scale(1 1.1)" stroke="#303040" stroke-width="0.05">6</text>
<text x="0" y="1.3" font-size="3.6" text-anchor="middle" fill="#303040" transform="translate(143 582.7) scale(1 1.1)" stroke="#303040" stroke-width="0.05">4</text>
<text x="0" y="1.3" font-size="3.6" text-anchor="middle" fill="#303040" transform="translate(150 585) scale(1 1.1)" stroke="#303040" stroke-width="0.05">0</text>
<text x="0" y="1.3" font-size="3.6" text-anchor="middle" fill="#303040" transform="translate(93 589.6) scale(1 1.1)" stroke="#303040" stroke-width="0.05">2</text>
<text x="0" y="1.3" font-size="3.6" text-anchor="middle" fill="#303040" transform="translate(99.2 588) scale(1 1.1)" stroke="#303040" stroke-width="0.05">10</text>
<text x="0" y="1.3" font-size="3.6" text-anchor="middle" fill="#303040" transform="translate(90.8 596.5) scale(1 1.1)" stroke="#303040" stroke-width="0.05">4</text>
<text x="0" y="1.3" font-size="3.6" text-anchor="middle" fill="#303040" transform="translate(104.6 598) scale(1 1.1)" stroke="#303040" stroke-width="0.05">5</text>
<text x="0" y="1.3" font-size="3.6" text-anchor="middle" fill="#303040" transform="translate(121.5 598.8) scale(1 1.1)" stroke="#303040" stroke-width="0.05">6</text>
<text x="0" y="1.3" font-size="3.6" text-anchor="middle" fill="#303040" transform="translate(138.5 597.3) scale(1 1.1)" stroke="#303040" stroke-width="0.05">0</text>
<text x="0" y="1.3" font-size="3.6" text-anchor="middle" fill="#303040" transform="translate(147.7 593.5) scale(1 1.1)" stroke="#303040" stroke-width="0.05">5</text>
<text x="0" y="1.3" font-size="3.6" text-anchor="middle" fill="#303040" transform="translate(111.5 607.3) scale(1 1.1)" stroke="#303040" stroke-width="0.05">2</text>
<text x="0" y="1.3" font-size="3.6" text-anchor="middle" fill="#303040" transform="translate(121.5 606.5) scale(1 1.1)" stroke="#303040" stroke-width="0.05">5</text>
<text x="0" y="1.3" font-size="3.6" text-anchor="middle" fill="#303040" transform="translate(128.5 612.7) scale(1 1.1)" stroke="#303040" stroke-width="0.05">1</text>
<text x="0" y="0" font-size="12.6" font-weight="bold" fill="#111" stroke="#111" stroke-width="0.25" transform="translate(202.4 322.73) scale(1 1.05)">H</text>
<rect x="231.4" y="324.9" width="126.8" height="114.3" fill="none" stroke="#a8a8a8" stroke-width="0.8"/>
<line x1="229.4" y1="435.3" x2="231.4" y2="435.3" stroke="#999" stroke-width="0.6"/>
<text x="0" y="2.16" font-size="6" text-anchor="middle" fill="#161616" transform="translate(225.4 435.3) rotate(-90) scale(1 1.1)" stroke="#161616" stroke-width="0.12">0.0</text>
<line x1="236.4" y1="439.2" x2="236.4" y2="441.2" stroke="#999" stroke-width="0.6"/>
<text x="0" y="2.23" font-size="6.2" text-anchor="middle" fill="#161616" transform="translate(236.4 446) scale(1 1.1)" stroke="#161616" stroke-width="0.12">0.0</text>
<line x1="229.4" y1="422" x2="231.4" y2="422" stroke="#999" stroke-width="0.6"/>
<text x="0" y="2.16" font-size="6" text-anchor="middle" fill="#161616" transform="translate(225.4 422) rotate(-90) scale(1 1.1)" stroke="#161616" stroke-width="0.12">0.1</text>
<line x1="250.97" y1="439.2" x2="250.97" y2="441.2" stroke="#999" stroke-width="0.6"/>
<text x="0" y="2.23" font-size="6.2" text-anchor="middle" fill="#161616" transform="translate(250.97 446) scale(1 1.1)" stroke="#161616" stroke-width="0.12">0.1</text>
<line x1="229.4" y1="408.7" x2="231.4" y2="408.7" stroke="#999" stroke-width="0.6"/>
<text x="0" y="2.16" font-size="6" text-anchor="middle" fill="#161616" transform="translate(225.4 408.7) rotate(-90) scale(1 1.1)" stroke="#161616" stroke-width="0.12">0.2</text>
<line x1="265.55" y1="439.2" x2="265.55" y2="441.2" stroke="#999" stroke-width="0.6"/>
<text x="0" y="2.23" font-size="6.2" text-anchor="middle" fill="#161616" transform="translate(265.55 446) scale(1 1.1)" stroke="#161616" stroke-width="0.12">0.2</text>
<line x1="229.4" y1="395.4" x2="231.4" y2="395.4" stroke="#999" stroke-width="0.6"/>
<text x="0" y="2.16" font-size="6" text-anchor="middle" fill="#161616" transform="translate(225.4 395.4) rotate(-90) scale(1 1.1)" stroke="#161616" stroke-width="0.12">0.3</text>
<line x1="280.12" y1="439.2" x2="280.12" y2="441.2" stroke="#999" stroke-width="0.6"/>
<text x="0" y="2.23" font-size="6.2" text-anchor="middle" fill="#161616" transform="translate(280.12 446) scale(1 1.1)" stroke="#161616" stroke-width="0.12">0.3</text>
<line x1="229.4" y1="382.1" x2="231.4" y2="382.1" stroke="#999" stroke-width="0.6"/>
<text x="0" y="2.16" font-size="6" text-anchor="middle" fill="#161616" transform="translate(225.4 382.1) rotate(-90) scale(1 1.1)" stroke="#161616" stroke-width="0.12">0.4</text>
<line x1="294.7" y1="439.2" x2="294.7" y2="441.2" stroke="#999" stroke-width="0.6"/>
<text x="0" y="2.23" font-size="6.2" text-anchor="middle" fill="#161616" transform="translate(294.7 446) scale(1 1.1)" stroke="#161616" stroke-width="0.12">0.4</text>
<line x1="229.4" y1="368.8" x2="231.4" y2="368.8" stroke="#999" stroke-width="0.6"/>
<text x="0" y="2.16" font-size="6" text-anchor="middle" fill="#161616" transform="translate(225.4 368.8) rotate(-90) scale(1 1.1)" stroke="#161616" stroke-width="0.12">0.5</text>
<line x1="309.27" y1="439.2" x2="309.27" y2="441.2" stroke="#999" stroke-width="0.6"/>
<text x="0" y="2.23" font-size="6.2" text-anchor="middle" fill="#161616" transform="translate(309.27 446) scale(1 1.1)" stroke="#161616" stroke-width="0.12">0.5</text>
<line x1="229.4" y1="355.5" x2="231.4" y2="355.5" stroke="#999" stroke-width="0.6"/>
<text x="0" y="2.16" font-size="6" text-anchor="middle" fill="#161616" transform="translate(225.4 355.5) rotate(-90) scale(1 1.1)" stroke="#161616" stroke-width="0.12">0.6</text>
<line x1="323.85" y1="439.2" x2="323.85" y2="441.2" stroke="#999" stroke-width="0.6"/>
<text x="0" y="2.23" font-size="6.2" text-anchor="middle" fill="#161616" transform="translate(323.85 446) scale(1 1.1)" stroke="#161616" stroke-width="0.12">0.6</text>
<line x1="229.4" y1="342.2" x2="231.4" y2="342.2" stroke="#999" stroke-width="0.6"/>
<text x="0" y="2.16" font-size="6" text-anchor="middle" fill="#161616" transform="translate(225.4 342.2) rotate(-90) scale(1 1.1)" stroke="#161616" stroke-width="0.12">0.7</text>
<line x1="338.43" y1="439.2" x2="338.43" y2="441.2" stroke="#999" stroke-width="0.6"/>
<text x="0" y="2.23" font-size="6.2" text-anchor="middle" fill="#161616" transform="translate(338.43 446) scale(1 1.1)" stroke="#161616" stroke-width="0.12">0.7</text>
<line x1="229.4" y1="328.9" x2="231.4" y2="328.9" stroke="#999" stroke-width="0.6"/>
<text x="0" y="2.16" font-size="6" text-anchor="middle" fill="#161616" transform="translate(225.4 328.9) rotate(-90) scale(1 1.1)" stroke="#161616" stroke-width="0.12">0.8</text>
<line x1="353" y1="439.2" x2="353" y2="441.2" stroke="#999" stroke-width="0.6"/>
<text x="0" y="2.23" font-size="6.2" text-anchor="middle" fill="#161616" transform="translate(353 446) scale(1 1.1)" stroke="#161616" stroke-width="0.12">0.8</text>
<text x="0" y="2.16" font-size="6" text-anchor="middle" fill="#161616" transform="translate(214.8 383.6) rotate(-90) scale(1 1.1)" stroke="#161616" stroke-width="0.12">Original tumor</text>
<text x="0" y="2.2" font-size="6.1" text-anchor="middle" fill="#161616" transform="translate(294.5 454.2) scale(1 1.1)" stroke="#161616" stroke-width="0.12">Pipeline</text>
<rect x="232" y="325.4" width="30.5" height="10.2" fill="#fff" stroke="#8a8a8a" stroke-width="0.5"/>
<circle cx="234.3" cy="328" r="0.55" fill="#222"/>
<circle cx="234.3" cy="331.6" r="0.55" fill="#222"/>
<text x="0" y="1.04" font-size="2.9" text-anchor="start" fill="#333" transform="translate(236 328) scale(1 1.1)" stroke="#333" stroke-width="0.08">Shared mutations</text>
<text x="0" y="1.04" font-size="2.9" text-anchor="start" fill="#333" transform="translate(236 331.6) scale(1 1.1)" stroke="#333" stroke-width="0.08">Private mutations</text>
<line x1="256.81" y1="416.68" x2="335.51" y2="344.86" stroke="#22594f" stroke-width="1.1"/>
<circle cx="243.69" cy="428.65" r="0.65" fill="#33403c"/>
<circle cx="248.06" cy="424.66" r="0.65" fill="#33403c"/>
<circle cx="250.97" cy="422" r="0.65" fill="#33403c"/>
<circle cx="253.16" cy="420" r="0.65" fill="#33403c"/>
<circle cx="255.35" cy="418.01" r="0.65" fill="#33403c"/>
<circle cx="337.7" cy="342.87" r="0.65" fill="#33403c"/>
<circle cx="339.88" cy="340.87" r="0.65" fill="#33403c"/>
<circle cx="342.07" cy="338.88" r="0.65" fill="#33403c"/>
<circle cx="344.25" cy="336.88" r="0.65" fill="#33403c"/>
<circle cx="347.17" cy="334.22" r="0.65" fill="#33403c"/>
<circle cx="236.4" cy="392.74" r="0.75" fill="#3a2a2a"/>
<text x="0" y="0" font-size="12.6" font-weight="bold" fill="#111" stroke="#111" stroke-width="0.25" transform="translate(367.9 322.53) scale(1 1.05)">I</text>
<rect x="385.2" y="325.5" width="124.8" height="113.8" fill="none" stroke="#a8a8a8" stroke-width="0.8"/>
<line x1="383.2" y1="435.3" x2="385.2" y2="435.3" stroke="#999" stroke-width="0.6"/>
<text x="0" y="2.16" font-size="6" text-anchor="middle" fill="#161616" transform="translate(379.2 435.3) rotate(-90) scale(1 1.1)" stroke="#161616" stroke-width="0.12">0.0</text>
<line x1="390.4" y1="439.3" x2="390.4" y2="441.3" stroke="#999" stroke-width="0.6"/>
<text x="0" y="2.23" font-size="6.2" text-anchor="middle" fill="#161616" transform="translate(390.4 446) scale(1 1.1)" stroke="#161616" stroke-width="0.12">0.0</text>
<line x1="383.2" y1="422" x2="385.2" y2="422" stroke="#999" stroke-width="0.6"/>
<text x="0" y="2.16" font-size="6" text-anchor="middle" fill="#161616" transform="translate(379.2 422) rotate(-90) scale(1 1.1)" stroke="#161616" stroke-width="0.12">0.1</text>
<line x1="404.73" y1="439.3" x2="404.73" y2="441.3" stroke="#999" stroke-width="0.6"/>
<text x="0" y="2.23" font-size="6.2" text-anchor="middle" fill="#161616" transform="translate(404.73 446) scale(1 1.1)" stroke="#161616" stroke-width="0.12">0.1</text>
<line x1="383.2" y1="408.7" x2="385.2" y2="408.7" stroke="#999" stroke-width="0.6"/>
<text x="0" y="2.16" font-size="6" text-anchor="middle" fill="#161616" transform="translate(379.2 408.7) rotate(-90) scale(1 1.1)" stroke="#161616" stroke-width="0.12">0.2</text>
<line x1="419.06" y1="439.3" x2="419.06" y2="441.3" stroke="#999" stroke-width="0.6"/>
<text x="0" y="2.23" font-size="6.2" text-anchor="middle" fill="#161616" transform="translate(419.06 446) scale(1 1.1)" stroke="#161616" stroke-width="0.12">0.2</text>
<line x1="383.2" y1="395.4" x2="385.2" y2="395.4" stroke="#999" stroke-width="0.6"/>
<text x="0" y="2.16" font-size="6" text-anchor="middle" fill="#161616" transform="translate(379.2 395.4) rotate(-90) scale(1 1.1)" stroke="#161616" stroke-width="0.12">0.3</text>
<line x1="433.39" y1="439.3" x2="433.39" y2="441.3" stroke="#999" stroke-width="0.6"/>
<text x="0" y="2.23" font-size="6.2" text-anchor="middle" fill="#161616" transform="translate(433.39 446) scale(1 1.1)" stroke="#161616" stroke-width="0.12">0.3</text>
<line x1="383.2" y1="382.1" x2="385.2" y2="382.1" stroke="#999" stroke-width="0.6"/>
<text x="0" y="2.16" font-size="6" text-anchor="middle" fill="#161616" transform="translate(379.2 382.1) rotate(-90) scale(1 1.1)" stroke="#161616" stroke-width="0.12">0.4</text>
<line x1="447.72" y1="439.3" x2="447.72" y2="441.3" stroke="#999" stroke-width="0.6"/>
<text x="0" y="2.23" font-size="6.2" text-anchor="middle" fill="#161616" transform="translate(447.72 446) scale(1 1.1)" stroke="#161616" stroke-width="0.12">0.4</text>
<line x1="383.2" y1="368.8" x2="385.2" y2="368.8" stroke="#999" stroke-width="0.6"/>
<text x="0" y="2.16" font-size="6" text-anchor="middle" fill="#161616" transform="translate(379.2 368.8) rotate(-90) scale(1 1.1)" stroke="#161616" stroke-width="0.12">0.5</text>
<line x1="462.05" y1="439.3" x2="462.05" y2="441.3" stroke="#999" stroke-width="0.6"/>
<text x="0" y="2.23" font-size="6.2" text-anchor="middle" fill="#161616" transform="translate(462.05 446) scale(1 1.1)" stroke="#161616" stroke-width="0.12">0.5</text>
<line x1="383.2" y1="355.5" x2="385.2" y2="355.5" stroke="#999" stroke-width="0.6"/>
<text x="0" y="2.16" font-size="6" text-anchor="middle" fill="#161616" transform="translate(379.2 355.5) rotate(-90) scale(1 1.1)" stroke="#161616" stroke-width="0.12">0.6</text>
<line x1="476.38" y1="439.3" x2="476.38" y2="441.3" stroke="#999" stroke-width="0.6"/>
<text x="0" y="2.23" font-size="6.2" text-anchor="middle" fill="#161616" transform="translate(476.38 446) scale(1 1.1)" stroke="#161616" stroke-width="0.12">0.6</text>
<line x1="383.2" y1="342.2" x2="385.2" y2="342.2" stroke="#999" stroke-width="0.6"/>
<text x="0" y="2.16" font-size="6" text-anchor="middle" fill="#161616" transform="translate(379.2 342.2) rotate(-90) scale(1 1.1)" stroke="#161616" stroke-width="0.12">0.7</text>
<line x1="490.71" y1="439.3" x2="490.71" y2="441.3" stroke="#999" stroke-width="0.6"/>
<text x="0" y="2.23" font-size="6.2" text-anchor="middle" fill="#161616" transform="translate(490.71 446) scale(1 1.1)" stroke="#161616" stroke-width="0.12">0.7</text>
<line x1="383.2" y1="328.9" x2="385.2" y2="328.9" stroke="#999" stroke-width="0.6"/>
<text x="0" y="2.16" font-size="6" text-anchor="middle" fill="#161616" transform="translate(379.2 328.9) rotate(-90) scale(1 1.1)" stroke="#161616" stroke-width="0.12">0.8</text>
<line x1="505.04" y1="439.3" x2="505.04" y2="441.3" stroke="#999" stroke-width="0.6"/>
<text x="0" y="2.23" font-size="6.2" text-anchor="middle" fill="#161616" transform="translate(505.04 446) scale(1 1.1)" stroke="#161616" stroke-width="0.12">0.8</text>
<text x="0" y="2.16" font-size="6" text-anchor="middle" fill="#161616" transform="translate(370.1 383.6) rotate(-90) scale(1 1.1)" stroke="#161616" stroke-width="0.12">Original tumor</text>
<text x="0" y="2.2" font-size="6.1" text-anchor="middle" fill="#161616" transform="translate(445.8 454.2) scale(1 1.1)" stroke="#161616" stroke-width="0.12">Xenome</text>
<rect x="385.8" y="326" width="30.5" height="10.2" fill="#fff" stroke="#8a8a8a" stroke-width="0.5"/>
<circle cx="388.1" cy="328.6" r="0.55" fill="#222"/>
<circle cx="388.1" cy="332.2" r="0.55" fill="#222"/>
<text x="0" y="1.04" font-size="2.9" text-anchor="start" fill="#333" transform="translate(389.8 328.6) scale(1 1.1)" stroke="#333" stroke-width="0.08">Shared mutations</text>
<text x="0" y="1.04" font-size="2.9" text-anchor="start" fill="#333" transform="translate(389.8 332.2) scale(1 1.1)" stroke="#333" stroke-width="0.08">Private mutations</text>
<line x1="410.46" y1="416.68" x2="487.84" y2="344.86" stroke="#22594f" stroke-width="1.1"/>
<circle cx="397.56" cy="428.65" r="0.65" fill="#33403c"/>
<circle cx="401.86" cy="424.66" r="0.65" fill="#33403c"/>
<circle cx="404.73" cy="422" r="0.65" fill="#33403c"/>
<circle cx="406.88" cy="420" r="0.65" fill="#33403c"/>
<circle cx="409.03" cy="418.01" r="0.65" fill="#33403c"/>
<circle cx="489.99" cy="342.87" r="0.65" fill="#33403c"/>
<circle cx="492.14" cy="340.87" r="0.65" fill="#33403c"/>
<circle cx="494.29" cy="338.88" r="0.65" fill="#33403c"/>
<circle cx="496.44" cy="336.88" r="0.65" fill="#33403c"/>
<circle cx="499.31" cy="334.22" r="0.65" fill="#33403c"/>
<circle cx="439.12" cy="391.41" r="0.8" fill="#1f4d46"/>
<circle cx="446.29" cy="386.09" r="0.8" fill="#1f4d46"/>
<circle cx="447.72" cy="383.43" r="0.8" fill="#1f4d46"/>
<circle cx="452.02" cy="380.77" r="0.8" fill="#1f4d46"/>
<circle cx="459.18" cy="371.46" r="0.8" fill="#1f4d46"/>
<circle cx="482.11" cy="354.17" r="0.8" fill="#1f4d46"/>
<circle cx="427.66" cy="402.05" r="0.8" fill="#1f4d46"/>
<circle cx="473.51" cy="356.83" r="0.8" fill="#1f4d46"/>
<circle cx="433.39" cy="394.07" r="0.8" fill="#1f4d46"/>
<circle cx="490.71" cy="342.2" r="0.8" fill="#1f4d46"/>
<circle cx="390.4" cy="384.76" r="0.75" fill="#3a2a2a"/>
<circle cx="390.4" cy="387.42" r="0.75" fill="#3a2a2a"/>
<circle cx="390.4" cy="403.38" r="0.75" fill="#3a2a2a"/>
<circle cx="390.4" cy="408.7" r="0.75" fill="#3a2a2a"/>
<circle cx="397.56" cy="408.7" r="0.75" fill="#3a2a2a"/>
<circle cx="400.43" cy="392.74" r="0.75" fill="#3a2a2a"/>
<circle cx="401.86" cy="390.08" r="0.75" fill="#3a2a2a"/>
<circle cx="403.3" cy="388.75" r="0.75" fill="#3a2a2a"/>
<circle cx="406.16" cy="379.44" r="0.75" fill="#3a2a2a"/>
<circle cx="397.56" cy="428.65" r="0.75" fill="#3a2a2a"/>
<circle cx="396.85" cy="435.3" r="0.75" fill="#3a2a2a"/>
<circle cx="399" cy="435.3" r="0.75" fill="#3a2a2a"/>
<circle cx="409.03" cy="435.3" r="0.75" fill="#3a2a2a"/>
<circle cx="413.33" cy="435.3" r="0.75" fill="#3a2a2a"/>
<circle cx="462.05" cy="435.3" r="0.75" fill="#3a2a2a"/>
<text x="0" y="0" font-size="12.6" font-weight="bold" fill="#111" stroke="#111" stroke-width="0.25" transform="translate(219.2 476.53) scale(1 1.05)">J</text>
<line x1="249.6" y1="486" x2="249.6" y2="627.7" stroke="#999" stroke-width="0.8"/>
<line x1="247.6" y1="627.7" x2="249.6" y2="627.7" stroke="#999" stroke-width="0.6"/>
<text x="0" y="2.23" font-size="6.2" text-anchor="end" fill="#161616" transform="translate(246.8 627.7) scale(1 1.1)" stroke="#161616" stroke-width="0.12">0</text>
<line x1="247.6" y1="599.36" x2="249.6" y2="599.36" stroke="#999" stroke-width="0.6"/>
<text x="0" y="2.23" font-size="6.2" text-anchor="end" fill="#161616" transform="translate(246.8 599.36) scale(1 1.1)" stroke="#161616" stroke-width="0.12">20</text>
<line x1="247.6" y1="571.02" x2="249.6" y2="571.02" stroke="#999" stroke-width="0.6"/>
<text x="0" y="2.23" font-size="6.2" text-anchor="end" fill="#161616" transform="translate(246.8 571.02) scale(1 1.1)" stroke="#161616" stroke-width="0.12">40</text>
<line x1="247.6" y1="542.68" x2="249.6" y2="542.68" stroke="#999" stroke-width="0.6"/>
<text x="0" y="2.23" font-size="6.2" text-anchor="end" fill="#161616" transform="translate(246.8 542.68) scale(1 1.1)" stroke="#161616" stroke-width="0.12">60</text>
<line x1="247.6" y1="514.34" x2="249.6" y2="514.34" stroke="#999" stroke-width="0.6"/>
<text x="0" y="2.23" font-size="6.2" text-anchor="end" fill="#161616" transform="translate(246.8 514.34) scale(1 1.1)" stroke="#161616" stroke-width="0.12">80</text>
<line x1="247.6" y1="486" x2="249.6" y2="486" stroke="#999" stroke-width="0.6"/>
<text x="0" y="2.23" font-size="6.2" text-anchor="end" fill="#161616" transform="translate(246.8 486) scale(1 1.1)" stroke="#161616" stroke-width="0.12">100</text>
<rect x="252.1" y="624.16" width="11.2" height="3.54" fill="#b7a8e1" stroke="#555" stroke-width="0.5"/>
<rect x="252.1" y="620.33" width="11.2" height="3.83" fill="#f1a7bf" stroke="#555" stroke-width="0.5"/>
<rect x="252.1" y="614.95" width="11.2" height="5.38" fill="#f1f7ab" stroke="#555" stroke-width="0.5"/>
<rect x="252.1" y="610.84" width="11.2" height="4.11" fill="#fde9d9" stroke="#555" stroke-width="0.5"/>
<rect x="252.1" y="608.57" width="11.2" height="2.27" fill="#74c79d" stroke="#555" stroke-width="0.5"/>
<rect x="252.1" y="486" width="11.2" height="122.57" fill="#6e80cb" stroke="#555" stroke-width="0.5"/>
<rect x="267.47" y="616.22" width="11.2" height="11.48" fill="#b7a8e1" stroke="#555" stroke-width="0.5"/>
<rect x="267.47" y="573" width="11.2" height="43.22" fill="#f1a7bf" stroke="#555" stroke-width="0.5"/>
<rect x="267.47" y="564.22" width="11.2" height="8.79" fill="#f1f7ab" stroke="#555" stroke-width="0.5"/>
<rect x="267.47" y="554.58" width="11.2" height="9.64" fill="#fde9d9" stroke="#555" stroke-width="0.5"/>
<rect x="267.47" y="543.81" width="11.2" height="10.77" fill="#74c79d" stroke="#555" stroke-width="0.5"/>
<rect x="267.47" y="486" width="11.2" height="57.81" fill="#6e80cb" stroke="#555" stroke-width="0.5"/>
<rect x="282.84" y="617.36" width="11.2" height="10.34" fill="#b7a8e1" stroke="#555" stroke-width="0.5"/>
<rect x="282.84" y="581.51" width="11.2" height="35.85" fill="#f1a7bf" stroke="#555" stroke-width="0.5"/>
<rect x="282.84" y="572.86" width="11.2" height="8.64" fill="#f1f7ab" stroke="#555" stroke-width="0.5"/>
<rect x="282.84" y="563.08" width="11.2" height="9.78" fill="#fde9d9" stroke="#555" stroke-width="0.5"/>
<rect x="282.84" y="553.45" width="11.2" height="9.64" fill="#74c79d" stroke="#555" stroke-width="0.5"/>
<rect x="282.84" y="486" width="11.2" height="67.45" fill="#6e80cb" stroke="#555" stroke-width="0.5"/>
<rect x="298.21" y="614.95" width="11.2" height="12.75" fill="#b7a8e1" stroke="#555" stroke-width="0.5"/>
<rect x="298.21" y="569.6" width="11.2" height="45.34" fill="#f1a7bf" stroke="#555" stroke-width="0.5"/>
<rect x="298.21" y="560.82" width="11.2" height="8.79" fill="#f1f7ab" stroke="#555" stroke-width="0.5"/>
<rect x="298.21" y="552.03" width="11.2" height="8.79" fill="#fde9d9" stroke="#555" stroke-width="0.5"/>
<rect x="298.21" y="540.13" width="11.2" height="11.9" fill="#74c79d" stroke="#555" stroke-width="0.5"/>
<rect x="298.21" y="486" width="11.2" height="54.13" fill="#6e80cb" stroke="#555" stroke-width="0.5"/>
<rect x="313.58" y="617.07" width="11.2" height="10.63" fill="#b7a8e1" stroke="#555" stroke-width="0.5"/>
<rect x="313.58" y="583.49" width="11.2" height="33.58" fill="#f1a7bf" stroke="#555" stroke-width="0.5"/>
<rect x="313.58" y="575.55" width="11.2" height="7.94" fill="#f1f7ab" stroke="#555" stroke-width="0.5"/>
<rect x="313.58" y="567.19" width="11.2" height="8.36" fill="#fde9d9" stroke="#555" stroke-width="0.5"/>
<rect x="313.58" y="557.56" width="11.2" height="9.64" fill="#74c79d" stroke="#555" stroke-width="0.5"/>
<rect x="313.58" y="486" width="11.2" height="71.56" fill="#6e80cb" stroke="#555" stroke-width="0.5"/>
<rect x="328.95" y="615.94" width="11.2" height="11.76" fill="#b7a8e1" stroke="#555" stroke-width="0.5"/>
<rect x="328.95" y="571.59" width="11.2" height="44.35" fill="#f1a7bf" stroke="#555" stroke-width="0.5"/>
<rect x="328.95" y="562.66" width="11.2" height="8.93" fill="#f1f7ab" stroke="#555" stroke-width="0.5"/>
<rect x="328.95" y="552.88" width="11.2" height="9.78" fill="#fde9d9" stroke="#555" stroke-width="0.5"/>
<rect x="328.95" y="542.25" width="11.2" height="10.63" fill="#74c79d" stroke="#555" stroke-width="0.5"/>
<rect x="328.95" y="486" width="11.2" height="56.25" fill="#6e80cb" stroke="#555" stroke-width="0.5"/>
<rect x="359.69" y="624.58" width="11.2" height="3.12" fill="#b7a8e1" stroke="#555" stroke-width="0.5"/>
<rect x="359.69" y="620.33" width="11.2" height="4.25" fill="#f1a7bf" stroke="#555" stroke-width="0.5"/>
<rect x="359.69" y="615.94" width="11.2" height="4.39" fill="#f1f7ab" stroke="#555" stroke-width="0.5"/>
<rect x="359.69" y="611.4" width="11.2" height="4.53" fill="#fde9d9" stroke="#555" stroke-width="0.5"/>
<rect x="359.69" y="609" width="11.2" height="2.41" fill="#74c79d" stroke="#555" stroke-width="0.5"/>
<rect x="359.69" y="486" width="11.2" height="123" fill="#6e80cb" stroke="#555" stroke-width="0.5"/>
<rect x="375.06" y="624.16" width="11.2" height="3.54" fill="#b7a8e1" stroke="#555" stroke-width="0.5"/>
<rect x="375.06" y="619.62" width="11.2" height="4.53" fill="#f1a7bf" stroke="#555" stroke-width="0.5"/>
<rect x="375.06" y="614.52" width="11.2" height="5.1" fill="#f1f7ab" stroke="#555" stroke-width="0.5"/>
<rect x="375.06" y="608.15" width="11.2" height="6.38" fill="#fde9d9" stroke="#555" stroke-width="0.5"/>
<rect x="375.06" y="605.74" width="11.2" height="2.41" fill="#74c79d" stroke="#555" stroke-width="0.5"/>
<rect x="375.06" y="486" width="11.2" height="119.74" fill="#6e80cb" stroke="#555" stroke-width="0.5"/>
<rect x="390.43" y="624.02" width="11.2" height="3.68" fill="#b7a8e1" stroke="#555" stroke-width="0.5"/>
<rect x="390.43" y="619.34" width="11.2" height="4.68" fill="#f1a7bf" stroke="#555" stroke-width="0.5"/>
<rect x="390.43" y="613.67" width="11.2" height="5.67" fill="#f1f7ab" stroke="#555" stroke-width="0.5"/>
<rect x="390.43" y="607.01" width="11.2" height="6.66" fill="#fde9d9" stroke="#555" stroke-width="0.5"/>
<rect x="390.43" y="603.61" width="11.2" height="3.4" fill="#74c79d" stroke="#555" stroke-width="0.5"/>
<rect x="390.43" y="486" width="11.2" height="117.61" fill="#6e80cb" stroke="#555" stroke-width="0.5"/>
<rect x="405.8" y="624.16" width="11.2" height="3.54" fill="#b7a8e1" stroke="#555" stroke-width="0.5"/>
<rect x="405.8" y="619.62" width="11.2" height="4.53" fill="#f1a7bf" stroke="#555" stroke-width="0.5"/>
<rect x="405.8" y="614.66" width="11.2" height="4.96" fill="#f1f7ab" stroke="#555" stroke-width="0.5"/>
<rect x="405.8" y="609.28" width="11.2" height="5.38" fill="#fde9d9" stroke="#555" stroke-width="0.5"/>
<rect x="405.8" y="606.45" width="11.2" height="2.83" fill="#74c79d" stroke="#555" stroke-width="0.5"/>
<rect x="405.8" y="486" width="11.2" height="120.45" fill="#6e80cb" stroke="#555" stroke-width="0.5"/>
<rect x="421.17" y="624.3" width="11.2" height="3.4" fill="#b7a8e1" stroke="#555" stroke-width="0.5"/>
<rect x="421.17" y="619.91" width="11.2" height="4.39" fill="#f1a7bf" stroke="#555" stroke-width="0.5"/>
<rect x="421.17" y="614.66" width="11.2" height="5.24" fill="#f1f7ab" stroke="#555" stroke-width="0.5"/>
<rect x="421.17" y="608.57" width="11.2" height="6.09" fill="#fde9d9" stroke="#555" stroke-width="0.5"/>
<rect x="421.17" y="605.74" width="11.2" height="2.83" fill="#74c79d" stroke="#555" stroke-width="0.5"/>
<rect x="421.17" y="486" width="11.2" height="119.74" fill="#6e80cb" stroke="#555" stroke-width="0.5"/>
<rect x="436.54" y="624.16" width="11.2" height="3.54" fill="#b7a8e1" stroke="#555" stroke-width="0.5"/>
<rect x="436.54" y="619.48" width="11.2" height="4.68" fill="#f1a7bf" stroke="#555" stroke-width="0.5"/>
<rect x="436.54" y="614.24" width="11.2" height="5.24" fill="#f1f7ab" stroke="#555" stroke-width="0.5"/>
<rect x="436.54" y="607.86" width="11.2" height="6.38" fill="#fde9d9" stroke="#555" stroke-width="0.5"/>
<rect x="436.54" y="604.32" width="11.2" height="3.54" fill="#74c79d" stroke="#555" stroke-width="0.5"/>
<rect x="436.54" y="486" width="11.2" height="118.32" fill="#6e80cb" stroke="#555" stroke-width="0.5"/>
<text x="0" y="0" font-size="6" text-anchor="end" fill="#161616" stroke="#161616" stroke-width="0.1" transform="translate(258.9 629.6) rotate(-90) scale(1 1.08)">Tumor</text>
<text x="0" y="0" font-size="6" text-anchor="end" fill="#161616" stroke="#161616" stroke-width="0.1" transform="translate(366.49 629.6) rotate(-90) scale(1 1.08)">Tumor</text>
<text x="0" y="0" font-size="6" text-anchor="end" fill="#161616" stroke="#161616" stroke-width="0.1" transform="translate(274.27 629.6) rotate(-90) scale(1 1.08)">PDX</text>
<text x="0" y="0" font-size="6" text-anchor="end" fill="#161616" stroke="#161616" stroke-width="0.1" transform="translate(381.86 629.6) rotate(-90) scale(1 1.08)">PDX</text>
<text x="0" y="0" font-size="6" text-anchor="end" fill="#161616" stroke="#161616" stroke-width="0.1" transform="translate(289.64 629.6) rotate(-90) scale(1 1.08)">CDXF1</text>
<text x="0" y="0" font-size="6" text-anchor="end" fill="#161616" stroke="#161616" stroke-width="0.1" transform="translate(397.23 629.6) rotate(-90) scale(1 1.08)">CDXF1</text>
<text x="0" y="0" font-size="6" text-anchor="end" fill="#161616" stroke="#161616" stroke-width="0.1" transform="translate(305.01 629.6) rotate(-90) scale(1 1.08)">CDXF2</text>
<text x="0" y="0" font-size="6" text-anchor="end" fill="#161616" stroke="#161616" stroke-width="0.1" transform="translate(412.6 629.6) rotate(-90) scale(1 1.08)">CDXF2</text>
<text x="0" y="0" font-size="6" text-anchor="end" fill="#161616" stroke="#161616" stroke-width="0.1" transform="translate(320.38 629.6) rotate(-90) scale(1 1.08)">Liver Met</text>
<text x="0" y="0" font-size="6" text-anchor="end" fill="#161616" stroke="#161616" stroke-width="0.1" transform="translate(427.97 629.6) rotate(-90) scale(1 1.08)">Liver Met</text>
<text x="0" y="0" font-size="6" text-anchor="end" fill="#161616" stroke="#161616" stroke-width="0.1" transform="translate(335.75 629.6) rotate(-90) scale(1 1.08)">LN Met</text>
<text x="0" y="0" font-size="6" text-anchor="end" fill="#161616" stroke="#161616" stroke-width="0.1" transform="translate(443.34 629.6) rotate(-90) scale(1 1.08)">LN Met</text>
<text x="0" y="2.12" font-size="5.9" text-anchor="middle" fill="#161616" transform="translate(293.5 663.6) scale(1 1.1)" font-weight="bold" stroke="#161616" stroke-width="0.15">Prefilter</text>
<text x="0" y="2.12" font-size="5.9" text-anchor="middle" fill="#161616" transform="translate(401.9 663.6) scale(1 1.1)" font-weight="bold" stroke="#161616" stroke-width="0.15">Postfilter</text>
<text x="0" y="2.16" font-size="6" text-anchor="middle" fill="#161616" transform="translate(231.3 550) rotate(-90) scale(1 1.1)" stroke="#161616" stroke-width="0.12">% of Each mutation class</text>
<rect x="454.9" y="512.8" width="14.4" height="8.1" fill="#6e80cb" stroke="#999" stroke-width="0.5"/>
<text x="0" y="2.16" font-size="6" text-anchor="start" fill="#161616" transform="translate(474 516.85) scale(1 1.1)" stroke="#161616" stroke-width="0.12">G&gt;A/C&gt;T</text>
<rect x="454.9" y="525.9" width="14.4" height="8.1" fill="#74c79d" stroke="#999" stroke-width="0.5"/>
<text x="0" y="2.16" font-size="6" text-anchor="start" fill="#161616" transform="translate(474 529.95) scale(1 1.1)" stroke="#161616" stroke-width="0.12">G&gt;C/C&gt;G</text>
<rect x="454.9" y="539" width="14.4" height="8.1" fill="#fde9d9" stroke="#999" stroke-width="0.5"/>
<text x="0" y="2.16" font-size="6" text-anchor="start" fill="#161616" transform="translate(474 543.05) scale(1 1.1)" stroke="#161616" stroke-width="0.12">G&gt;T/C&gt;A</text>
<rect x="454.9" y="552.1" width="14.4" height="8.1" fill="#f1f7ab" stroke="#999" stroke-width="0.5"/>
<text x="0" y="2.16" font-size="6" text-anchor="start" fill="#161616" transform="translate(474 556.15) scale(1 1.1)" stroke="#161616" stroke-width="0.12">A&gt;T/T&gt;A</text>
<rect x="454.9" y="565.2" width="14.4" height="8.1" fill="#f1a7bf" stroke="#999" stroke-width="0.5"/>
<text x="0" y="2.16" font-size="6" text-anchor="start" fill="#161616" transform="translate(474 569.25) scale(1 1.1)" stroke="#161616" stroke-width="0.12">A&gt;G/T&gt;C</text>
<rect x="454.9" y="578.3" width="14.4" height="8.1" fill="#b7a8e1" stroke="#999" stroke-width="0.5"/>
<text x="0" y="2.16" font-size="6" text-anchor="start" fill="#161616" transform="translate(474 582.35) scale(1 1.1)" stroke="#161616" stroke-width="0.12">A&gt;C/T&gt;G</text>
</svg></body></html>
